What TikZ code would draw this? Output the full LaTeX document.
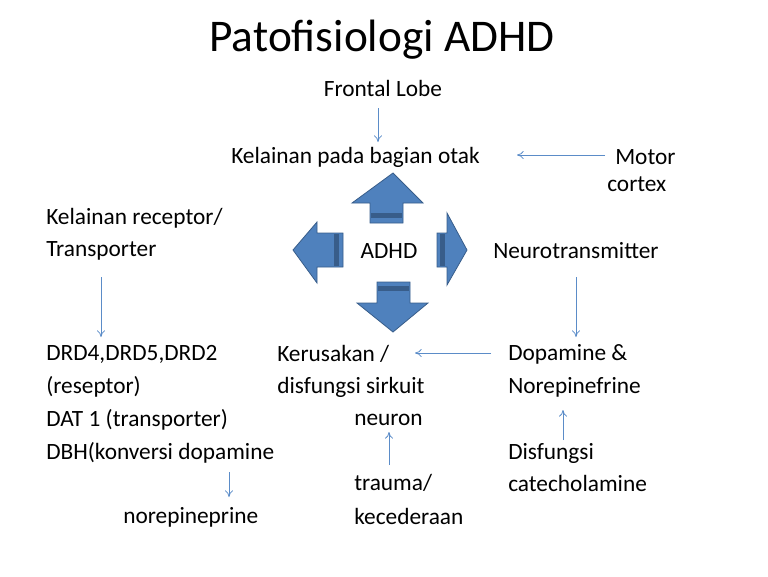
\documentclass[tikz,border=0pt]{standalone}
\usepackage{fontspec}
\setmainfont{Carlito}
\usetikzlibrary{arrows.meta}
\definecolor{blk}{RGB}{79,129,189}
\definecolor{blkd}{RGB}{56,93,138}
\definecolor{ln}{RGB}{91,140,200}
\tikzset{
 txt/.style={anchor=west,inner sep=0pt,font=\fontsize{17.5}{20}\selectfont},
 conn/.style={draw=ln,line width=0.6pt,-{To[length=5pt,width=6pt]}},
 block/.style={fill=blk,draw=blkd,line width=0.6pt},
 stripe/.style={fill=blkd,draw=none}
}
\begin{document}
\begin{tikzpicture}[x=0.75pt,y=-0.75pt]
\useasboundingbox (0,0) rectangle (768,576);
\node[inner sep=0pt,font=\fontsize{34}{40}\selectfont] (title) at (382,40) {Patofisiologi ADHD};
\node[inner sep=0pt,font=\fontsize{17.5}{20}\selectfont] (frontal) at (383,88) {Frontal Lobe};
\node[txt] (kelainan) at (231,157) {Kelainan pada bagian otak};
\node[txt] (motor) at (615,157) {Motor};
\node[txt] (cortex) at (607,184) {cortex};
\node[txt] (rec1) at (46,218) {Kelainan receptor/};
\node[txt] (rec2) at (46,251) {Transporter};
\node[inner sep=0pt,font=\fontsize{17.5}{20}\selectfont] (adhd) at (389,251) {ADHD};
\node[txt] (neuro) at (493,251) {Neurotransmitter};
\node[txt] (drd) at (46,354) {DRD4,DRD5,DRD2};
\node[txt] (res) at (46,387) {(reseptor)};
\node[txt] (dat) at (46,420) {DAT 1 (transporter)};
\node[txt] (dbh) at (46,453) {DBH(konversi dopamine};
\node[txt] (nore) at (123,517) {norepineprine};
\node[txt] (kerus) at (277,354) {Kerusakan /};
\node[txt] (disf) at (277,387) {disfungsi sirkuit};
\node[txt] (neuron) at (354,420) {neuron};
\node[txt] (trauma) at (354,483) {trauma/};
\node[txt] (keced) at (354,516) {kecederaan};
\node[txt] (dopa) at (508,354) {Dopamine \&};
\node[txt] (norep) at (508,387) {Norepinefrine};
\node[txt] (disf2) at (508,453) {Disfungsi};
\node[txt] (cat) at (508,483) {catecholamine};
% connectors
\coordinate (a1) at (378,108); \coordinate (a2) at (378,142);
\draw[conn] (a1) -- (a2);
\coordinate (b1) at (605,155); \coordinate (b2) at (517,155);
\draw[conn] (b1) -- (b2);
\coordinate (c1) at (101,277); \coordinate (c2) at (101,337);
\draw[conn] (c1) -- (c2);
\coordinate (d1) at (576,277); \coordinate (d2) at (576,337);
\draw[conn] (d1) -- (d2);
\coordinate (e1) at (229,472); \coordinate (e2) at (229,497);
\draw[conn] (e1) -- (e2);
\coordinate (f1) at (491,353); \coordinate (f2) at (415,353);
\draw[conn] (f1) -- (f2);
\coordinate (g1) at (389,465); \coordinate (g2) at (389,432);
\draw[conn] (g1) -- (g2);
\coordinate (h1) at (563,440); \coordinate (h2) at (563,410);
\draw[conn] (h1) -- (h2);
% block arrows
\draw[block] (393,173) -- (423,203) -- (403,203) -- (403,223) -- (370,223) -- (370,203) -- (352,203) -- cycle;
\fill[stripe] (371,213) rectangle (402,218);
\draw[block] (393,332) -- (428,303) -- (410,303) -- (410,282) -- (377,282) -- (377,303) -- (357,303) -- cycle;
\fill[stripe] (378,286) rectangle (409,291);
\draw[block] (293,250) -- (317,222) -- (317,233) -- (343,233) -- (343,267) -- (317,267) -- (317,283) -- cycle;
\fill[stripe] (334,234) rectangle (339,266);
\draw[block] (467,250) -- (447,213) -- (447,233) -- (437,233) -- (437,267) -- (447,267) -- (447,285) -- cycle;
\fill[stripe] (440,234) rectangle (445,266);
\end{tikzpicture}
\end{document}
